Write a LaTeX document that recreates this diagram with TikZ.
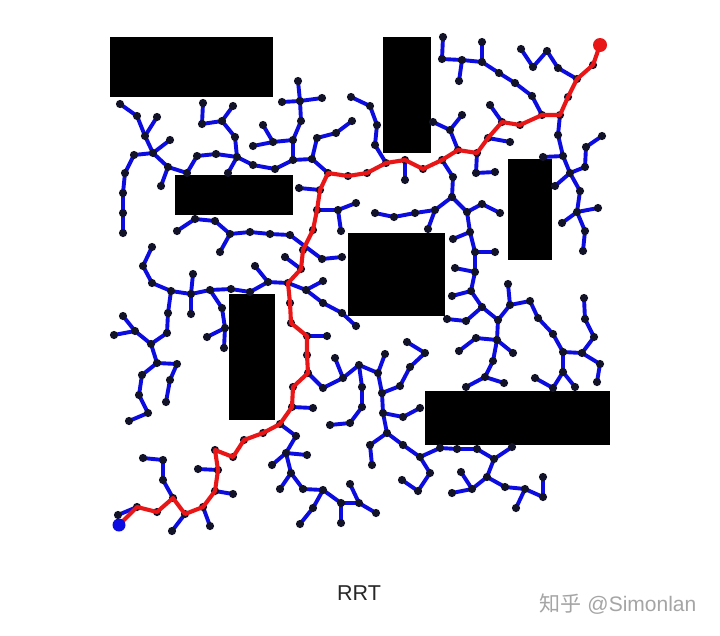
\documentclass[tikz,border=0pt]{standalone}
\usepackage{fontspec}
\setmainfont{Liberation Sans}
\newfontfamily\cjkfont{Noto Sans CJK SC}
\definecolor{treeblue}{RGB}{12,12,225}
\definecolor{pathred}{RGB}{232,22,22}
\definecolor{dotcol}{RGB}{18,18,40}
\definecolor{titlecol}{RGB}{40,40,40}
\definecolor{wmcol}{RGB}{165,165,165}
\tikzset{
  treeedge/.style={draw=treeblue, line width=3.9pt, line cap=round},
  pathedge/.style={draw=pathred, line width=4.1pt, line cap=round, line join=round},
  obstacle/.style={fill=black, draw=none},
}
\def\nodelist{r0/119/525, r1/137/507, r2/157/512, r3/173/498, r4/185/514, r5/203/507, r6/215/491, r7/218/470, r8/215/450, r9/233/457, r10/244/440, r11/263/433, r12/280/424, r13/292/407, r14/293/387, r15/308/373, r16/307/355, r17/307/336, r18/291/323, r19/290/303, r20/288/283, r21/301/269, r22/303/250, r23/313/230, r24/317/210, r25/320/190, r26/328/173, r27/348/176, r28/367/173, r29/386/163, r30/405/160, r31/423/169, r32/442/160, r33/458/150, r34/477/153, r35/488/138, r36/502/122, r37/520/125, r38/542/115, r39/560/115, r40/568/97, r41/577/79, r42/593/65, r43/600/45,
a1/120/104, a2/137/116, a3/157/117, a4/145/136, a5/170/140, a6/153/153, a7/134/155, a8/125/173, a9/123/193, a10/123/213, a11/123/233, a12/168/167, a13/161/186, a14/187/173, a15/197/156, a16/216/154, a17/237/157, a18/235/137, a19/222/121, a20/202/124, a21/203/103, a22/233/106, a23/228/173, a24/253/165, a25/275/169, a26/263/125, a27/273/142, a28/253/146,
c1/298/81, c2/300/101, c3/282/102, c4/322/98, c5/301/121, c6/293/140, c7/293/160, c8/312/159, c9/317/138, c10/336/133, c11/352/121,
d1/351/97, d2/370/106, d3/377/125, d4/375/145, d5/405/180, d6/299/188, d7/338/210, d8/356/203, d9/341/231,
e1/443/37, e2/442/59, e3/462/60, e4/482/42, e5/482/62, e6/459/81, e7/499/73, e8/515/83, e9/532/96, e10/521/49, e11/533/67, e12/547/51, e13/558/68, e14/490/105, e15/433/122, e16/450/130, e17/462/115, e18/510/142, e19/476/173, e20/495/172,
f1/558/135, f2/563/156, f3/543/157, f4/570/173, f5/555/186, f6/585/167, f7/586/147, f8/602/136, f9/580/191, f10/577/212, f11/598/208, f12/562/223, f13/585/231, f14/583/251,
g1/453/177, g2/452/197, g3/435/210, g4/415/213, g5/394/217, g6/375/213, g7/428/229, g8/467/212, g9/482/204, g10/500/213, g11/470/232,
h1/453/239, h2/475/252, h3/495/252, h4/475/272, h5/455/268, h6/471/291, h7/452/296, h8/482/307, h9/466/321, h10/447/319, h11/498/320, h12/510/305, h13/508/284, h14/530/301, h15/538/318, h16/553/334, h17/563/352, h18/582/353, h19/594/337, h20/585/319, h21/584/298, h22/600/364, h23/597/382, h24/563/372, h25/497/340, h26/476/338, h27/459/351, h28/513/353, h29/493/361, h30/485/377, h31/466/387, h32/504/383, h33/553/388, h34/535/378, h35/575/387,
k1/323/388, k2/343/378, k3/335/358, k4/359/365, k5/362/387, k6/362/407, k7/350/423, k8/330/425,
m1/385/354, m2/378/373, m3/382/393, m4/400/386, m5/410/367, m6/425/353, m7/407/342, m8/383/413, m9/403/417, m10/420/408, m11/387/433, m12/370/445, m13/372/465, m14/403/445, m15/420/457, m16/440/448, m17/430/473, m18/418/491, m19/402/480,
n1/457/449, n2/477/449, n3/494/459, n4/512/447, n5/487/477, n6/472/489, n7/452/493, n8/461/472, n9/505/487, n10/525/489, n11/543/497, n12/543/477, n13/516/508,
p1/296/436, p2/286/453, p3/307/455, p4/272/465, p5/291/473, p6/280/489, p7/303/489, p8/323/490, p9/313/508, p10/300/524, p11/341/503, p12/341/523, p13/359/503, p14/350/484, p15/376/513,
q1/313/408, q2/327/336, q3/306/290, q4/323/281, q5/323/303, q6/342/313, q7/356/326, q8/290/235, q9/322/259, q10/342/257, q11/285/257,
s1/177/231, s2/195/219, s3/215/221, s4/230/234, s5/220/252, s6/250/232, s7/270/234,
t1/152/247, t2/143/266, t3/152/283, t4/171/291, t5/191/294, t6/193/274, t7/191/314, t8/210/290, t9/231/289, t10/250/292, t11/268/282, t12/255/266, t13/222/308, t14/225/328, t15/207/337, t16/224/348,
u1/168/313, u2/167/333, u3/151/344, u4/135/331, u5/123/316, u6/114/335, u7/157/363, u8/177/364, u9/142/375, u10/170/380, u11/166/402, u12/139/395, u13/148/413, u14/129/421,
v1/118/515, v2/143/458, v3/163/460, v4/163/480, v5/172/531, v6/210/526, v7/233/494, v8/198/469}
\def\edgelist{a1/a2, a2/a4, a3/a4, a4/a6, a5/a6, a6/a7, a7/a8, a8/a9, a9/a10, a10/a11, a6/a12, a12/a13, a12/a14, a14/a15, a15/a16, a16/a17, a17/a18, a18/a19, a19/a20, a20/a21, a19/a22, a17/a23, a17/a24, a24/a25, a26/a27, a27/a28,
c1/c2, c3/c2, c2/c4, c2/c5, c5/c6, c6/a27, c6/c7, c7/a25, c7/c8, c8/c9, c9/c10, c10/c11, c8/r26,
d1/d2, d2/d3, d3/d4, d4/r29, r30/d5, d6/r25, r24/d7, d7/d8, d7/d9,
e1/e2, e2/e3, e3/e6, e3/e5, e4/e5, e5/e7, e7/e8, e8/e9, e9/r38, e10/e11, e11/e12, e12/e13, e13/r41, e14/r36, e15/e16, e16/e17, e16/r33, r35/e18, r34/e19, e19/e20,
r39/f1, f1/f2, f2/f3, f2/f4, f4/f5, f4/f6, f6/f7, f7/f8, f4/f9, f9/f10, f10/f11, f10/f12, f10/f13, f13/f14,
r32/g1, g1/g2, g2/g3, g3/g4, g4/g5, g5/g6, g3/g7, g2/g8, g8/g9, g9/g10, g8/g11,
g11/h1, g11/h2, h2/h3, h2/h4, h4/h5, h4/h6, h6/h7, h6/h8, h8/h9, h9/h10, h8/h11, h11/h12, h12/h13, h12/h14, h14/h15, h15/h16, h16/h17, h17/h18, h18/h19, h19/h20, h20/h21, h18/h22, h22/h23, h17/h24, h24/h33, h33/h34, h24/h35, h11/h25, h25/h26, h26/h27, h25/h28, h25/h29, h29/h30, h30/h31, h30/h32,
r15/k1, k1/k2, k2/k3, k2/k4, k4/k5, k5/k6, k6/k7, k7/k8,
k4/m2, m2/m1, m2/m3, m3/m4, m4/m5, m5/m6, m6/m7, m3/m8, m8/m9, m9/m10, m8/m11, m11/m12, m12/m13, m11/m14, m14/m15, m15/m16, m15/m17, m17/m18, m18/m19,
m16/n1, n1/n2, n2/n3, n3/n4, n3/n5, n5/n6, n6/n7, n6/n8, n5/n9, n9/n10, n10/n11, n11/n12, n10/n13,
r12/p1, p1/p2, p2/p3, p2/p4, p2/p5, p5/p6, p5/p7, p7/p8, p8/p9, p9/p10, p8/p11, p11/p12, p11/p13, p13/p14, p13/p15,
r13/q1, r17/q2, r20/q3, q3/q4, q3/q5, q5/q6, q6/q7, q8/q9, q9/q10, q11/r21,
s1/s2, s2/s3, s3/s4, s4/s5, s4/s6, s6/s7, s7/q8,
t1/t2, t2/t3, t3/t4, t4/t5, t5/t6, t5/t7, t5/t8, t8/t9, t9/t10, t10/t11, t11/t12, t11/r20, t8/t13, t13/t14, t14/t15, t14/t16,
t4/u1, u1/u2, u2/u3, u3/u4, u4/u5, u4/u6, u3/u7, u7/u8, u7/u9, u8/u10, u10/u11, u9/u12, u12/u13, u13/u14,
r1/v1, v2/v3, v3/v4, v4/r3, r4/v5, r5/v6, r6/v7, r7/v8}
\begin{document}
\begin{tikzpicture}[x=1pt, y=-1pt]
\useasboundingbox (0,0) rectangle (720,635);
\fill[white] (0,0) rectangle (720,635);
% obstacles
\fill[obstacle] (110,37) rectangle (273,97);
\fill[obstacle] (383,37) rectangle (431,153);
\fill[obstacle] (175,175) rectangle (293,215);
\fill[obstacle] (508,159) rectangle (552,260);
\fill[obstacle] (348,233) rectangle (445,316);
\fill[obstacle] (229,294) rectangle (275,420);
\fill[obstacle] (425,391) rectangle (610,445);
% tree nodes
\foreach \n/\x/\y in \nodelist { \coordinate (\n) at (\x,\y); }
% tree edges
\foreach \p/\q in \edgelist { \draw[treeedge] (\p) -- (\q); }
% node dots
\foreach \n/\x/\y in \nodelist { \fill[dotcol] (\n) circle (4.1pt); }
% path
\draw[pathedge] (r0) -- (r1) -- (r2) -- (r3) -- (r4) -- (r5) -- (r6) -- (r7) -- (r8) -- (r9) -- (r10) -- (r11) -- (r12) -- (r13) -- (r14) -- (r15) -- (r16) -- (r17) -- (r18) -- (r19) -- (r20) -- (r21) -- (r22) -- (r23) -- (r24) -- (r25) -- (r26) -- (r27) -- (r28) -- (r29) -- (r30) -- (r31) -- (r32) -- (r33) -- (r34) -- (r35) -- (r36) -- (r37) -- (r38) -- (r39) -- (r40) -- (r41) -- (r42) -- (r43);
\fill[treeblue] (r0) circle (6.5pt);
\fill[pathred] (r43) circle (7pt);
% labels
\node[text=titlecol, font=\fontsize{21.5}{24}\selectfont, anchor=center] (title) at (359,593) {RRT};
\node[text=wmcol, font=\fontsize{21}{24}\selectfont, anchor=center] (wm) at (618,604) {{\cjkfont 知乎} @Simonlan};
\end{tikzpicture}
\end{document}
